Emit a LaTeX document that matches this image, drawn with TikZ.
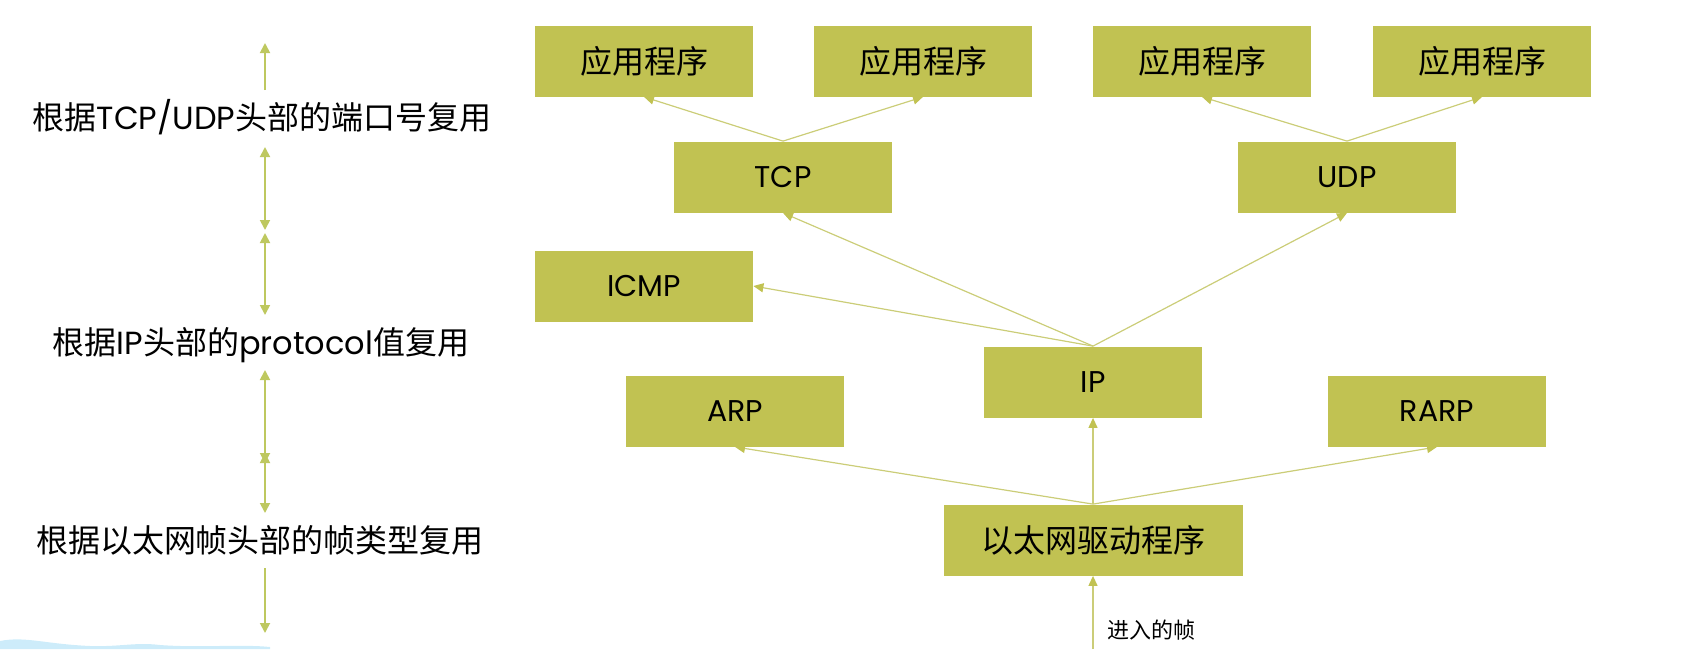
\documentclass[tikz,border=0pt]{standalone}
\usepackage{fontspec}
\newfontfamily\cjk{Noto Sans CJK SC}
\newfontfamily\lat{Poppins}
\usetikzlibrary{arrows.meta}
\usepackage{xcolor}
\definecolor{boxgreen}{RGB}{193,194,82}
\definecolor{linkgreen}{RGB}{203,205,120}
\definecolor{sidegreen}{RGB}{190,200,95}
\definecolor{wave}{RGB}{205,236,250}
\tikzset{
    layer/.style={fill=boxgreen, inner sep=0pt, minimum width=109pt, minimum height=35.5pt, font=\cjk\fontsize{16}{19}\selectfont},
    link/.style={draw=linkgreen, line width=0.6pt, -{Triangle[length=5pt, width=4.5pt, color=boxgreen]}},
    side/.style={draw=sidegreen, line width=0.9pt},
    mux/.style={font=\cjk\fontsize{16}{19}\selectfont},
}

\begin{document}
\begin{tikzpicture}[x=0.5pt, y=-0.5pt]
    \useasboundingbox (0,0) rectangle (1687,649);
    % blue swish at the bottom left
    \fill[wave] (0,649) -- (0,641) .. controls (25,636) and (45,644) .. (90,646) .. controls (120,647) and (135,642) .. (160,645) .. controls (200,648) and (240,644) .. (270,647) -- (270,649) -- cycle;

    % protocol boxes
    \node[layer] (app1) at (644,61) {应用程序};
    \node[layer] (app2) at (923,61) {应用程序};
    \node[layer] (app3) at (1202,61) {应用程序};
    \node[layer] (app4) at (1482,61) {应用程序};
    \node[layer] (tcp) at (783,177) {\lat\fontsize{15}{18}\selectfont TCP};
    \node[layer] (udp) at (1347,177) {\lat\fontsize{15}{18}\selectfont UDP};
    \node[layer] (icmp) at (644,286) {\lat\fontsize{15}{18}\selectfont ICMP};
    \node[layer] (ip) at (1093,382) {\lat\fontsize{15}{18}\selectfont IP};
    \node[layer] (arp) at (735,411) {\lat\fontsize{15}{18}\selectfont ARP};
    \node[layer] (rarp) at (1437,411) {\lat\fontsize{15}{18}\selectfont RARP};
    \node[layer, minimum width=149.5pt] (eth) at (1093,540) {以太网驱动程序};
    \node[font=\cjk\fontsize{11}{13}\selectfont, anchor=west] (frame) at (1100,630) {进入的帧};
    \coordinate (in) at (1093,649);

    \draw[link] (tcp.north) -- (app1.south);
    \draw[link] (tcp.north) -- (app2.south);
    \draw[link] (udp.north) -- (app3.south);
    \draw[link] (udp.north) -- (app4.south);
    \draw[link] (ip.north) -- (tcp.south);
    \draw[link] (ip.north) -- (udp.south);
    \draw[link] (ip.north) -- (icmp.east);
    \draw[link] (eth.north) -- (arp.south);
    \draw[link] (eth.north) -- (ip.south);
    \draw[link] (eth.north) -- (rarp.south);
    \draw[link] (in) -- (eth.south);

    % demultiplexing levels on the left
    \node[mux] (port) at (262,117) {根据{\lat TCP/UDP}头部的端口号复用};
    \node[mux] (proto) at (261,345) {根据{\lat IP}头部的{\lat protocol}值复用};
    \node[mux] (type) at (260,540) {根据以太网帧头部的帧类型复用};

    \coordinate (s1) at (265,90);  \coordinate (s2) at (265,43);
    \coordinate (s3) at (265,147); \coordinate (s4) at (265,230);
    \coordinate (s5) at (265,233); \coordinate (s6) at (265,315);
    \coordinate (s7) at (265,370); \coordinate (s8) at (265,463);
    \coordinate (s9) at (265,453); \coordinate (s10) at (265,513);
    \coordinate (s11) at (265,568); \coordinate (s12) at (265,633);
    \draw[side, -{Triangle[length=5pt, width=5pt]}] (s1) -- (s2);
    \draw[side, {Triangle[length=5pt, width=5pt]}-{Triangle[length=5pt, width=5pt]}] (s3) -- (s4);
    \draw[side, {Triangle[length=5pt, width=5pt]}-{Triangle[length=5pt, width=5pt]}] (s5) -- (s6);
    \draw[side, {Triangle[length=5pt, width=5pt]}-{Triangle[length=5pt, width=5pt]}] (s7) -- (s8);
    \draw[side, {Triangle[length=5pt, width=5pt]}-{Triangle[length=5pt, width=5pt]}] (s9) -- (s10);
    \draw[side, -{Triangle[length=5pt, width=5pt]}] (s11) -- (s12);
\end{tikzpicture}
\end{document}
